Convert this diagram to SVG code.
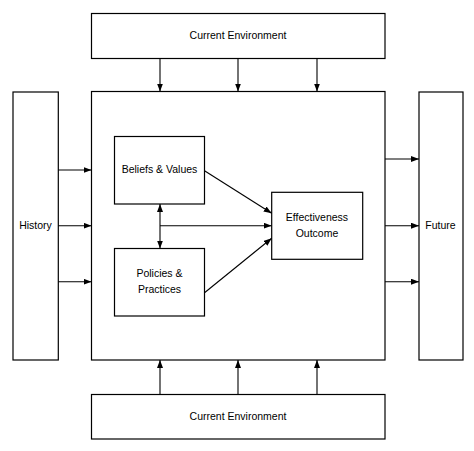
<svg xmlns="http://www.w3.org/2000/svg" width="474" height="451" viewBox="0 0 474 451">
<style>
.box{fill:#fff;stroke:#000;stroke-width:1.2}
.t{font-family:"Liberation Sans",Arial,sans-serif;font-size:10.5px;fill:#000;text-anchor:middle}
.c{stroke:#000;stroke-width:1.1;fill:none}
</style>
<defs>
<marker id="ah" viewBox="0 0 8 6" refX="8" refY="3" markerWidth="8" markerHeight="6" markerUnits="userSpaceOnUse" orient="auto-start-reverse">
<path d="M0,0 L8,3 L0,6 Z" fill="#000"/>
</marker>
</defs>
<rect width="474" height="451" fill="#fff"/>
<g id="main"><rect class="box" x="91.5" y="91.5" width="293.5" height="268.5"/></g>
<g id="env-top"><rect class="box" x="91.5" y="13.5" width="293.5" height="45"/><text class="t" x="238" y="39">Current Environment</text></g>
<g id="env-bottom"><rect class="box" x="91.5" y="394.5" width="293.5" height="44.5"/><text class="t" x="238" y="420">Current Environment</text></g>
<g id="history"><rect class="box" x="13" y="92" width="45.3" height="268"/><text class="t" x="35.5" y="229">History</text></g>
<g id="future"><rect class="box" x="419" y="92" width="44" height="268"/><text class="t" x="440.5" y="229">Future</text></g>
<g id="beliefs"><rect class="box" x="114.5" y="136.5" width="90" height="67.5"/><text class="t" x="159.5" y="173">Beliefs &amp; Values</text></g>
<g id="policies"><rect class="box" x="114.5" y="248.5" width="90" height="67.5"/><text class="t" x="159.5" y="277">Policies &amp;</text><text class="t" x="159.5" y="293">Practices</text></g>
<g id="outcome"><rect class="box" x="271.7" y="192.3" width="91" height="67"/><text class="t" x="317" y="221">Effectiveness</text><text class="t" x="317" y="237">Outcome</text></g>
<g id="connectors">
<line class="c" x1="160" y1="58.5" x2="160" y2="91.5" marker-end="url(#ah)"/>
<line class="c" x1="238" y1="58.5" x2="238" y2="91.5" marker-end="url(#ah)"/>
<line class="c" x1="317" y1="58.5" x2="317" y2="91.5" marker-end="url(#ah)"/>
<line class="c" x1="160" y1="394.5" x2="160" y2="360" marker-end="url(#ah)"/>
<line class="c" x1="238" y1="394.5" x2="238" y2="360" marker-end="url(#ah)"/>
<line class="c" x1="317" y1="394.5" x2="317" y2="360" marker-end="url(#ah)"/>
<line class="c" x1="58.3" y1="170" x2="91.5" y2="170" marker-end="url(#ah)"/>
<line class="c" x1="58.3" y1="225.7" x2="91.5" y2="225.7" marker-end="url(#ah)"/>
<line class="c" x1="58.3" y1="281.7" x2="91.5" y2="281.7" marker-end="url(#ah)"/>
<line class="c" x1="385" y1="159" x2="419" y2="159" marker-end="url(#ah)"/>
<line class="c" x1="385" y1="225.7" x2="419" y2="225.7" marker-end="url(#ah)"/>
<line class="c" x1="385" y1="281.7" x2="419" y2="281.7" marker-end="url(#ah)"/>
<line class="c" x1="160" y1="204" x2="160" y2="248.5" marker-start="url(#ah)" marker-end="url(#ah)"/>
<line class="c" x1="160" y1="225.7" x2="271.7" y2="225.7" marker-end="url(#ah)"/>
<line class="c" x1="204.5" y1="170.7" x2="271.7" y2="213.3" marker-end="url(#ah)"/>
<line class="c" x1="204.5" y1="292.7" x2="271.7" y2="238.3" marker-end="url(#ah)"/>
</g>
</svg>
